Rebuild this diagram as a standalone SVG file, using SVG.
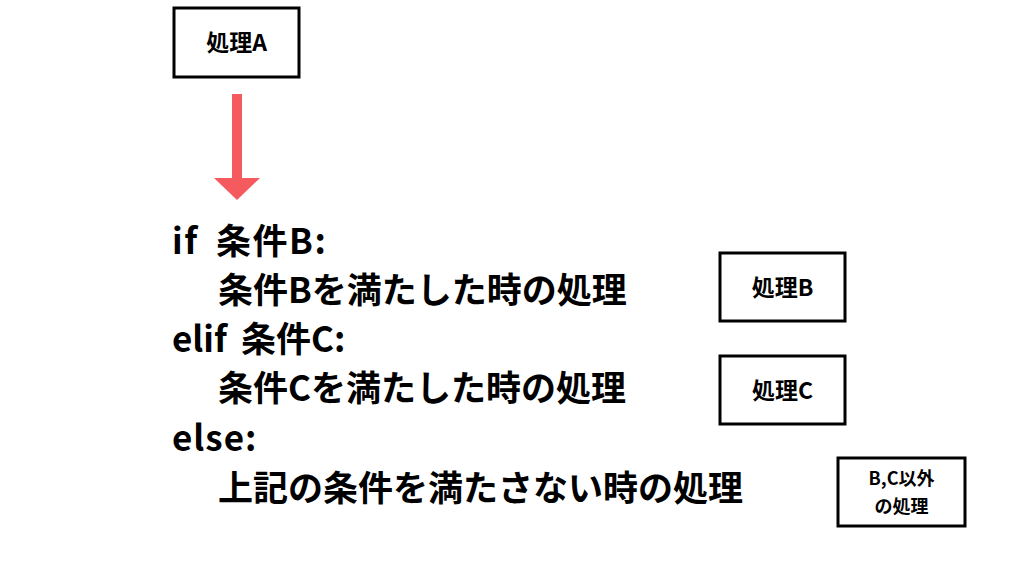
<svg xmlns="http://www.w3.org/2000/svg" width="1024" height="576" viewBox="0 0 1024 576">
<style>
.box{fill:#fff;stroke:#000;stroke-width:3}
.t{font-family:"Noto Sans CJK JP","Noto Sans",sans-serif;font-weight:bold;fill:#000}
.code{font-size:35px}
.lbl{font-size:23px;text-anchor:middle}
.sm{font-size:18px;text-anchor:middle}
</style>
<rect width="1024" height="576" fill="#fff"/>
<g id="nodeA"><rect class="box" x="174" y="8" width="125" height="69"/><text class="t lbl" x="236.5" y="51">処理A</text></g>
<g id="connectors"><rect x="232" y="94" width="10" height="86" fill="#f55a5f"/><polygon points="214,178 260,178 237,200" fill="#f55a5f"/></g>
<g id="code" class="t code">
<text x="172" y="254" word-spacing="8" letter-spacing="1.5">if 条件B:</text>
<text x="218" y="303">条件Bを満たした時の処理</text>
<text x="172" y="352" word-spacing="6">elif 条件C:</text>
<text x="218" y="401">条件Cを満たした時の処理</text>
<text x="172" y="451" letter-spacing="1">else:</text>
<text x="218" y="501">上記の条件を満たさない時の処理</text>
</g>
<g id="nodeB"><rect class="box" x="720" y="253" width="125" height="68"/><text class="t lbl" x="782.5" y="296">処理B</text></g>
<g id="nodeC"><rect class="box" x="720" y="356" width="125" height="68"/><text class="t lbl" x="782.5" y="399">処理C</text></g>
<g id="nodeElse"><rect class="box" x="838" y="458" width="127" height="68"/><text class="t sm" x="901.5" y="485">B,C以外</text><text class="t sm" x="901.5" y="513">の処理</text></g>
</svg>
